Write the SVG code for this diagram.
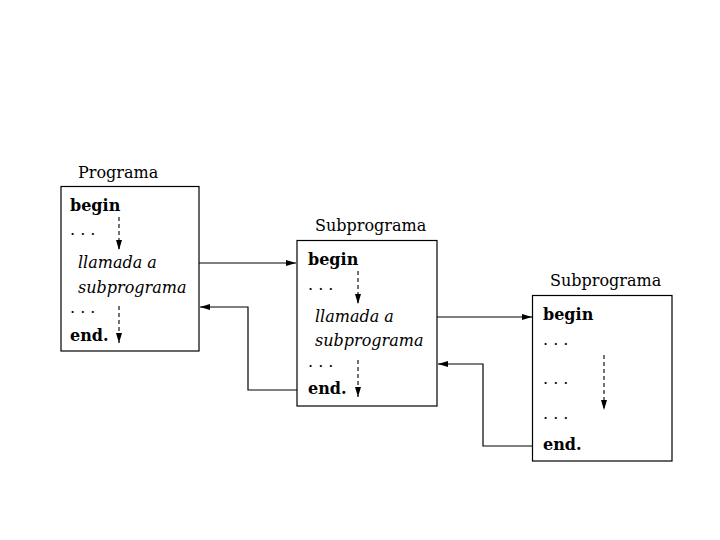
<svg xmlns="http://www.w3.org/2000/svg" width="720" height="540" viewBox="0 0 720 540">
<style>
text{font-family:"DejaVu Serif","Liberation Serif",serif;font-size:16px;fill:#000}
.b{font-weight:bold}
.i{font-style:italic}
.box{fill:#fff;stroke:#000;stroke-width:1.2}
.ln{fill:none;stroke:#000;stroke-width:1.2}
.dash{fill:none;stroke:#000;stroke-width:1.1;stroke-dasharray:4,3}
</style>
<defs>
<marker id="ah" viewBox="0 0 10 6" refX="10" refY="3" markerWidth="10" markerHeight="6" markerUnits="userSpaceOnUse" orient="auto">
<path d="M0,0 L10,3 L0,6 z" fill="#000"/>
</marker>
</defs>
<rect width="720" height="540" fill="#fff"/>
<g id="programa">
<text x="78" y="178">Programa</text>
<rect class="box" x="61" y="186.5" width="138" height="164.5"/>
<text class="b" x="70" y="211">begin</text>
<text x="70" y="235">. . .</text>
<text class="i" x="78" y="268">llamada a</text>
<text class="i" x="78" y="293">subprograma</text>
<text x="70" y="313">. . .</text>
<text class="b" x="70" y="341">end.</text>
<path class="dash" d="M119,217 V250" marker-end="url(#ah)"/>
<path class="dash" d="M119,306 V343" marker-end="url(#ah)"/>
</g>
<g id="subprograma1">
<text x="315" y="231">Subprograma</text>
<rect class="box" x="297" y="240.5" width="140" height="165.5"/>
<text class="b" x="308" y="265">begin</text>
<text x="308" y="290">. . .</text>
<text class="i" x="315" y="322">llamada a</text>
<text class="i" x="315" y="346">subprograma</text>
<text x="308" y="367">. . .</text>
<text class="b" x="308" y="394">end.</text>
<path class="dash" d="M358,271 V304" marker-end="url(#ah)"/>
<path class="dash" d="M358,360 V397" marker-end="url(#ah)"/>
</g>
<g id="subprograma2">
<text x="550" y="286">Subprograma</text>
<rect class="box" x="532.5" y="295.5" width="139.5" height="165.5"/>
<text class="b" x="543" y="320">begin</text>
<text x="543" y="345">. . .</text>
<text x="543" y="384">. . .</text>
<text x="543" y="419">. . .</text>
<text class="b" x="543" y="450">end.</text>
<path class="dash" d="M604,355 V410" marker-end="url(#ah)"/>
</g>
<g id="connectors">
<path class="ln" d="M199,263 H296" marker-end="url(#ah)"/>
<path class="ln" d="M297,390 H248 V307 H200" marker-end="url(#ah)"/>
<path class="ln" d="M437,317 H532" marker-end="url(#ah)"/>
<path class="ln" d="M532,446 H483 V364 H438" marker-end="url(#ah)"/>
</g>
</svg>
